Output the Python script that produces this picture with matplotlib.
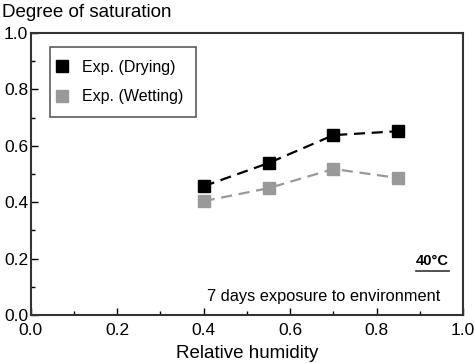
import matplotlib.pyplot as plt

plt.rcParams['font.family'] = ['Liberation Sans', 'DejaVu Sans']

rh = [0.4, 0.55, 0.7, 0.85]
drying = [0.457, 0.539, 0.638, 0.652]
wetting = [0.404, 0.450, 0.518, 0.486]

fig = plt.figure(figsize=(4.74, 3.63), dpi=100)
ax = fig.add_axes([0.065, 0.132, 0.912, 0.777])

ax.plot(rh, drying, 'k--', marker='s', markersize=9, linewidth=1.6,
        dashes=(5, 3), label='Exp. (Drying)')
ax.plot(rh, wetting, '--', color='#999999', marker='s', markersize=9,
        linewidth=1.6, dashes=(5, 3), label='Exp. (Wetting)')

ax.set_xlim(0, 1)
ax.set_ylim(0, 1)
ax.set_xticks([0, 0.2, 0.4, 0.6, 0.8, 1.0])
ax.set_yticks([0, 0.2, 0.4, 0.6, 0.8, 1.0])
ax.set_xticks([0.1, 0.3, 0.5, 0.7, 0.9], minor=True)
ax.set_yticks([0.1, 0.3, 0.5, 0.7, 0.9], minor=True)
ax.tick_params(direction='in', length=5, width=1, labelsize=12.5, pad=2)
ax.tick_params(axis='x', pad=6)
ax.tick_params(which='minor', direction='in', length=3, width=1)
for s in ax.spines.values():
    s.set_linewidth(1.5)
    s.set_color('#333333')

ax.set_xlabel('Relative humidity', fontsize=13.5, labelpad=5)
fig.text(0.005, 0.965, 'Degree of saturation', fontsize=13.5, va='center')

leg = ax.legend(loc='upper left', bbox_to_anchor=(0.025, 0.978), fontsize=11.5,
                frameon=True, fancybox=False, edgecolor='#333333',
                handlelength=0, handletextpad=1.2, borderpad=0.8,
                labelspacing=0.9, numpoints=1, markerscale=1.0)
leg.get_frame().set_linewidth(1.2)
for h in leg.legend_handles:
    h.set_linestyle('none')
    h.set_markersize(8)

ax.text(0.967, 0.19, '40°C', transform=ax.transAxes, ha='right',
        va='center', fontsize=10.5, fontweight='bold')
ax.plot([0.89, 0.967], [0.155, 0.155], transform=ax.transAxes, color='#333333',
        linewidth=1.2)
ax.text(0.947, 0.067, '7 days exposure to environment', transform=ax.transAxes,
        ha='right', va='center', fontsize=11.8)

fig.savefig('out.png', dpi=100)
